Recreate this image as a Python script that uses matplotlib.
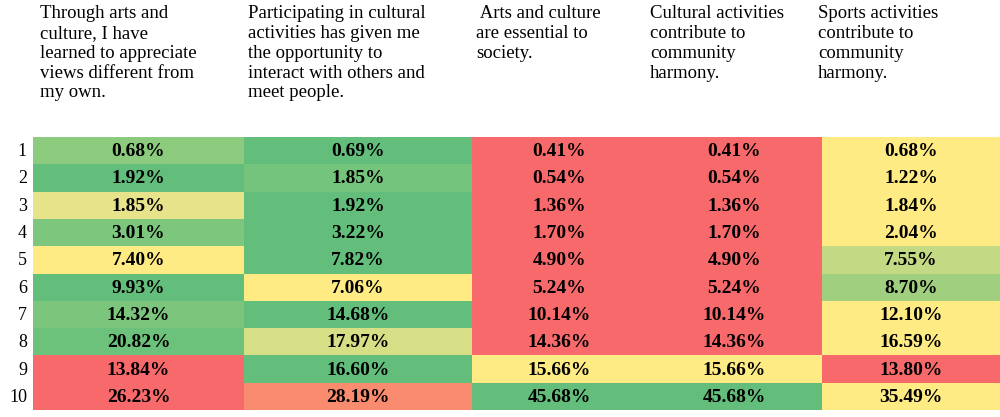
import matplotlib
matplotlib.use("Agg")
import matplotlib.pyplot as plt
from matplotlib.patches import Rectangle

headers = [
    "Through arts and\nculture, I have\nlearned to appreciate\nviews different from\nmy own.",
    "Participating in cultural\nactivities has given me\nthe opportunity to\ninteract with others and\nmeet people.",
    " Arts and culture\nare essential to\nsociety.",
    "Cultural activities\ncontribute to\ncommunity\nharmony.",
    "Sports activities\ncontribute to\ncommunity\nharmony.",
]
row_labels = [str(i) for i in range(1, 11)]
values = [
    [0.68, 1.92, 1.85, 3.01, 7.40, 9.93, 14.32, 20.82, 13.84, 26.23],
    [0.69, 1.85, 1.92, 3.22, 7.82, 7.06, 14.68, 17.97, 16.60, 28.19],
    [0.41, 0.54, 1.36, 1.70, 4.90, 5.24, 10.14, 14.36, 15.66, 45.68],
    [0.41, 0.54, 1.36, 1.70, 4.90, 5.24, 10.14, 14.36, 15.66, 45.68],
    [0.68, 1.22, 1.84, 2.04, 7.55, 8.70, 12.10, 16.59, 13.80, 35.49],
]
G, Y, R = "#63BE7B", "#FFEB84", "#F8696B"
colors = [
    ["#8CCB7E", G, "#E6E38A", "#7DC67D", Y, G, "#7BC57C", "#6CC17B", R, R],
    [G, "#75C47C", G, G, G, Y, G, "#D7DF86", G, "#F98B6F"],
    [R] * 8 + [Y, G],
    [R] * 8 + [Y, G],
    [Y, Y, Y, Y, "#C4D984", "#A0CF80", Y, Y, R, Y],
]

# layout (pixels)
col_edges = [33, 244, 472, 647, 822, 1000]
header_x = [40, 248, 476, 650, 818]
top, row_h = 137, 27.3

fig = plt.figure(figsize=(10, 4.17), dpi=100)
ax = fig.add_axes([0, 0, 1, 1])
ax.set_xlim(0, 1000)
ax.set_ylim(417, 0)
ax.axis("off")
serif = ["Liberation Serif", "DejaVu Serif"]

for c in range(5):
    x0, x1 = col_edges[c], col_edges[c + 1]
    ax.text(header_x[c], 5, headers[c], ha="left", va="top", fontsize=13.5,
            family=serif, linespacing=1.22)
    for r in range(10):
        y0 = top + r * row_h
        ax.add_patch(Rectangle((x0, y0), x1 - x0, row_h, facecolor=colors[c][r],
                               edgecolor="none"))
        ax.text((x0 + x1) / 2, y0 + row_h / 2 + 1, f"{values[c][r]:.2f}%", ha="center",
                va="center", fontsize=14, family=serif, fontweight="bold")
for r in range(10):
    ax.text(27, top + r * row_h + row_h / 2 + 1, row_labels[r], ha="right", va="center",
            fontsize=13, family=serif)

fig.savefig("out.png", dpi=100)
